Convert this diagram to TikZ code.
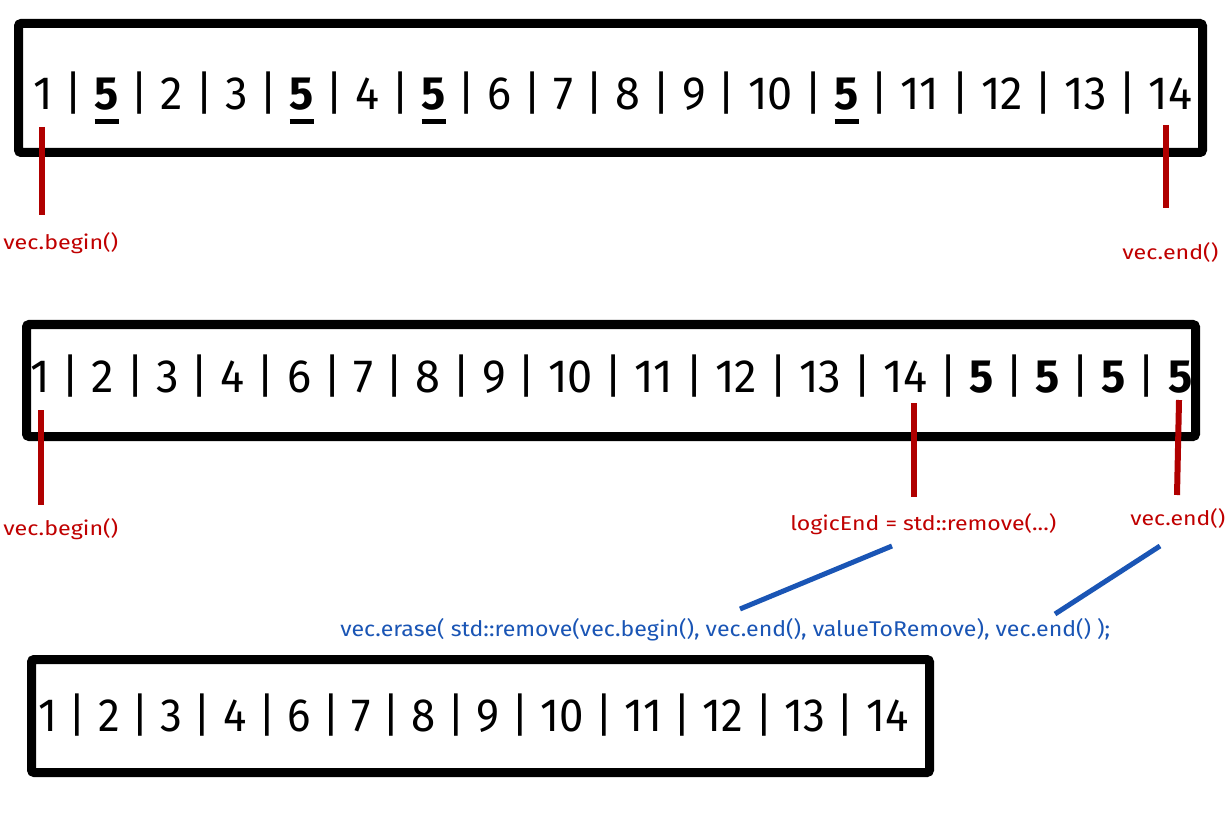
\documentclass[tikz,border=0pt]{standalone}
\usepackage{fontspec}
\setmainfont{Fira Sans}
\usepackage{graphicx}
\definecolor{redm}{HTML}{B00000}
\definecolor{redt}{HTML}{C00000}
\definecolor{bluem}{HTML}{1A55B5}
\newcommand\fitw[2]{\resizebox{#1}{\height}{#2}}
\newcommand\ufive{\setbox0\hbox{\bfseries 5}\rlap{\rule[-0.3em]{\wd0}{0.1em}}\box0}
\begin{document}
\begin{tikzpicture}[x=0.75pt,y=-0.75pt,
  arrbox/.style={line width=6.75pt, rounded corners=2pt},
  row/.style={anchor=base west, inner sep=0pt, font=\fontsize{35}{42}\selectfont},
  lbl/.style={anchor=base west, inner sep=0pt, text=redt, font=\fontsize{15}{18}\selectfont},
  code/.style={anchor=base west, inner sep=0pt, text=bluem, font=\fontsize{16}{19}\selectfont},
  redmark/.style={draw=redm, line width=4.5pt},
  bluemark/.style={draw=bluem, line width=3.75pt}]
\useasboundingbox[fill=white] (0,0) rectangle (1230,816);
% boxes
\draw[arrbox] (18.5,23.5) rectangle (1202.5,152.5);
\draw[arrbox] (26.5,324.5) rectangle (1195.5,436.5);
\draw[arrbox] (31.5,659.5) rectangle (929.5,772.5);
% rows
\node[row] (r1) at (33,110) {\fitw{869.25pt}{1 | \ufive{} | 2 | 3 | \ufive{} | 4 | \ufive{} | 6 | 7 | 8 | 9 | 10 | \ufive{} | 11 | 12 | 13 | 14}};
\node[row] (r2) at (30,392) {\fitw{871.5pt}{1 | 2 | 3 | 4 | 6 | 7 | 8 | 9 | 10 | 11 | 12 | 13 | 14 | \textbf{5} | \textbf{5} | \textbf{5} | \textbf{5}}};
\node[row] (r3) at (38,731) {\fitw{652.5pt}{1 | 2 | 3 | 4 | 6 | 7 | 8 | 9 | 10 | 11 | 12 | 13 | 14}};
% labels
\node[lbl] (b1) at (3,250) {\fitw{86.25pt}{vec.begin()}};
\node[lbl] (e1) at (1122,260) {\fitw{72pt}{vec.end()}};
\node[lbl] (b2) at (3,535) {\fitw{86.25pt}{vec.begin()}};
\node[lbl] (le) at (790,530) {\fitw{199.5pt}{logicEnd = std::remove(...)}};
\node[lbl] (e2) at (1130,525) {\fitw{71.25pt}{vec.end()}};
\node[code] (er) at (340,636) {\fitw{577.5pt}{vec.erase( std::remove(vec.begin(), vec.end(), valueToRemove), vec.end() );}};
% red markers
\coordinate (b1t) at (42,127); \coordinate (b1b) at (42,215);
\coordinate (e1t) at (1166,125); \coordinate (e1b) at (1166,208);
\coordinate (b2t) at (41,410); \coordinate (b2b) at (41,505);
\coordinate (let) at (914,403); \coordinate (leb) at (914,497);
\coordinate (e2t) at (1179,400); \coordinate (e2b) at (1177,495);
\draw[redmark] (b1t) -- (b1b);
\draw[redmark] (e1t) -- (e1b);
\draw[redmark] (b2t) -- (b2b);
\draw[redmark] (let) -- (leb);
\draw[redmark] (e2t) -- (e2b);
% blue connectors
\coordinate (l1a) at (892,546); \coordinate (l1b) at (740,609);
\coordinate (l2a) at (1160,546); \coordinate (l2b) at (1055,614);
\draw[bluemark] (l1a) -- (l1b);
\draw[bluemark] (l2a) -- (l2b);
\end{tikzpicture}
\end{document}
